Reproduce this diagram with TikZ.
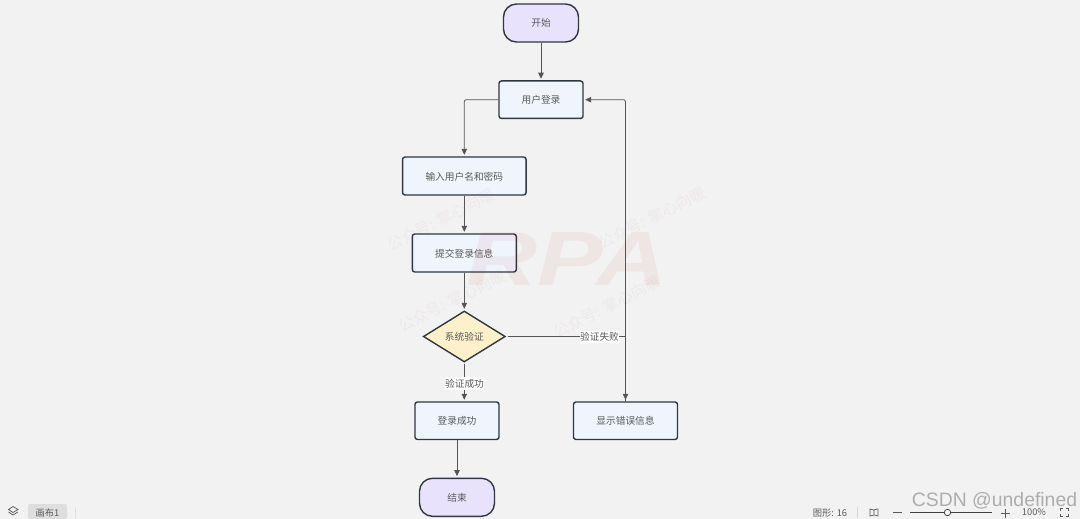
\documentclass[tikz,border=0pt]{standalone}
\usepackage{fontspec}
\setmainfont{Noto Sans CJK SC}
\newfontfamily\latinfont{Liberation Sans}
\usetikzlibrary{arrows.meta,shapes.geometric}
\definecolor{bgc}{HTML}{F2F2F2}
\definecolor{edgec}{HTML}{2F3742}
\definecolor{linec}{HTML}{555555}
\definecolor{txtc}{HTML}{5A5A5A}
\definecolor{boxc}{HTML}{EFF4FD}
\definecolor{termc}{HTML}{E9E2FC}
\definecolor{decc}{HTML}{FDF0CB}
\tikzset{
  x=1pt,y=-1pt,
  base/.style={draw=edgec,line width=1.4pt,text=txtc,inner sep=0pt,text height=9.5pt,text depth=1.5pt,font=\fontsize{9.7}{12}\selectfont},
  boxnode/.style={base,fill=boxc,rectangle,rounded corners=2.5pt},
  termnode/.style={base,fill=termc,rectangle,rounded corners=13pt,minimum width=75pt,minimum height=38pt},
  decnode/.style={base,fill=decc,diamond,aspect=1.62,minimum width=82pt,minimum height=51pt},
  flow/.style={draw=linec,line width=0.8pt,rounded corners=2pt,-{Triangle[length=6pt,width=5.5pt]},shorten >=1.5pt},
  plainflow/.style={draw=linec,line width=0.8pt},
  edgelabel/.style={fill=white,text=txtc,inner sep=0.5pt,text height=9.5pt,text depth=2pt,font=\fontsize{9.7}{12}\selectfont},
  mark text/.style={text=red!30!gray,opacity=0.06,rotate=27,font=\fontsize{15.5}{17}\selectfont},
  bartext/.style={text=txtc,inner sep=0pt,font=\fontsize{9.3}{11}\selectfont},
  icon/.style={draw=txtc,line width=0.7pt}
}
\begin{document}
\begin{tikzpicture}
\path[use as bounding box,fill=bgc] (0,0) rectangle (1080,519);

\node[termnode] (start) at (541,23) {开始};
\node[boxnode,minimum width=84pt,minimum height=37.5pt] (login) at (541,99.7) {用户登录};
\node[boxnode,minimum width=123.5pt,minimum height=38pt] (input) at (464.3,176) {输入用户名和密码};
\node[boxnode,minimum width=104pt,minimum height=38pt] (submit) at (464.3,253) {提交登录信息};
\node[decnode] (check) at (464.3,336.5) {系统验证};
\node[boxnode,minimum width=84pt,minimum height=37.5pt] (ok) at (457,420.7) {登录成功};
\node[boxnode,minimum width=104pt,minimum height=37.5pt] (err) at (625.5,420.7) {显示错误信息};
\node[termnode] (end) at (457,497.3) {结束};

\coordinate (turn) at (err.north |- check.east);
\draw[flow] (start) -- (login);
\draw[flow] (login.west) -| (input.north);
\draw[flow] (input) -- (submit);
\draw[flow] (submit) -- (check);
\draw[flow] ([yshift=-1pt]check.south) -- (check.south |- ok.north);
\draw[flow] (ok) -- (end);
\draw[plainflow] ([xshift=2pt]check.east) -- (turn);
\draw[flow] (turn) -- (err.north);
\draw[flow] (err.north) |- (login.east);
\node[edgelabel] (lok) at (464.5,383.5) {验证成功};
\node[edgelabel] (lerr) at (599.5,337) {验证失败};

% watermarks
\node[font=\fontsize{77}{80}\bfseries\itshape\latinfont,text=red!70!black,opacity=0.05,xscale=1.28,inner sep=0pt] (rpa) at (567,259) {RPA};
\node[mark text] (w1) at (441,220) {公众号: 掌心向暖};
\node[mark text] (w2) at (652,218) {公众号: 掌心向暖};
\node[mark text] (w3) at (452,301) {公众号: 掌心向暖};
\node[mark text] (w4) at (607,307) {公众号: 掌心向暖};

% bottom bar
\path[icon,fill=none] (13,506.5) -- (18,509.5) -- (13,512.5) -- (8.5,509.5) -- cycle;
\path[icon,fill=none] (8.5,512) -- (13,515) -- (18,512);
\path[fill=black!13,rounded corners=2pt] (28,504) rectangle (67,519);
\node[bartext] (tab) at (47.5,512.5) {画布1};
\draw[black!12,line width=0.7pt] (75,508) -- (75,519);
\node[bartext] (count) at (830,513.5) {图形: 16};
\draw[black!15,line width=0.7pt] (857,507) -- (857,518);
\path[icon,fill=none] (870,509) -- (873.5,510) -- (877,509) -- (878,509) -- (878,516) -- (874,515) -- (870,516) -- cycle (874,510) -- (874,515);
\draw[icon] (892.5,512.5) -- (902,512.5);
\draw[black!75,line width=0.9pt] (910,512.5) -- (992,512.5);
\path[draw=black!75,fill=white,line width=0.8pt] (947.5,512.5) circle (3.2pt);
\draw[icon] (1001,513) -- (1010,513) (1005.5,508.5) -- (1005.5,517.5);
\node[bartext] (zoomtxt) at (1034,512.5) {100\%};
\path[icon] (1060,511) -- (1060,508.5) -- (1062.5,508.5) (1066,508.5) -- (1068.5,508.5) -- (1068.5,511) (1068.5,514) -- (1068.5,516.5) -- (1066,516.5) (1062.5,516.5) -- (1060,516.5) -- (1060,514);
\node[font=\fontsize{19.4}{21}\latinfont,text=black!32,inner sep=0pt] (csdn) at (994.5,501) {CSDN @undefined};
\end{tikzpicture}
\end{document}
